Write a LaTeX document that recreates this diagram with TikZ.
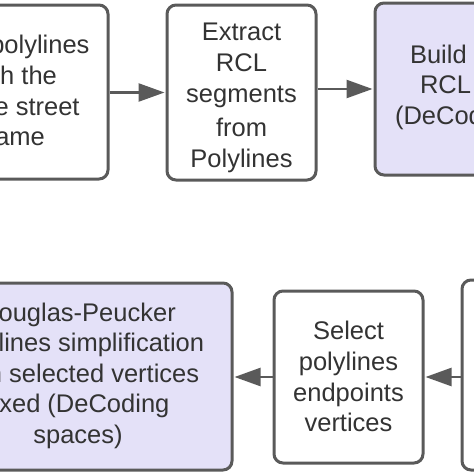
\documentclass[tikz,border=0pt]{standalone}
\usepackage{fontspec}
\setmainfont{Liberation Sans}
\usetikzlibrary{arrows.meta,calc}
\definecolor{edgegray}{RGB}{90,90,90}
\definecolor{lav}{RGB}{228,225,248}
\definecolor{ink}{RGB}{51,51,51}
\def\lsd{6.5pt}
\newcommand\ls{\rule[-\lsd]{0pt}{30.6pt}}
\begin{document}
\begin{tikzpicture}[x=1pt,y=-1pt,
  box/.style={draw=edgegray, line width=3pt, rounded corners=9pt, fill=white, text=ink,
    align=center, inner sep=0pt, font=\fontsize{25.5}{30.6}\selectfont},
  pbox/.style={box, fill=lav},
  tshift/.style={execute at begin node={\def\lsd{#1}}},
  arr/.style={draw=edgegray, line width=2.5pt, -{Triangle[length=26pt,width=18pt]}, shorten >=1pt}]
\useasboundingbox (0,0) rectangle (474,474);
\clip (0,0) rectangle (474,474);
\node[box, minimum width=190pt, minimum height=174pt, tshift=7.5pt] (b1) at (13,92)
  {\ls Join polylines\\\ls with the\\\ls same street\\\ls name};
\node[box, minimum width=149pt, minimum height=175pt, tshift=2.5pt] (b2) at (241.5,92.5)
  {\ls Extract\\\ls RCL\\\ls segments\\\ls from\\\ls Polylines};
\node[pbox, align=left, minimum width=162pt, minimum height=172pt, tshift=10.5pt] (b3) at (456,89)
  {\ls\hspace*{15pt}Build\\\ls\hspace*{25pt}RCL\\\ls (DeCoding};
\node[box, minimum width=156pt, minimum height=190pt] (b6) at (540,375) {};
\node[box, minimum width=149pt, minimum height=172pt] (b5) at (348.5,377)
  {\ls Select\\\ls polylines\\\ls endpoints\\\ls vertices};
\node[pbox, minimum width=308pt, minimum height=187pt, tshift=9.5pt] (b4) at (78,376.5)
  {\ls Douglas-Peucker\\\ls polylines simplification\\\ls with selected vertices\\\ls fixed (DeCoding\\\ls spaces)};
\draw[arr] (b1.east |- 0,92.5) -- (b2.west |- 0,92.5);
\draw[arr] (b2.east |- b3.west) -- (b3.west);
\draw[arr] (b6.west |- b5.east) -- (b5.east);
\draw[arr] (b5.west) -- (b5.west -| b4.east);
\end{tikzpicture}
\end{document}
